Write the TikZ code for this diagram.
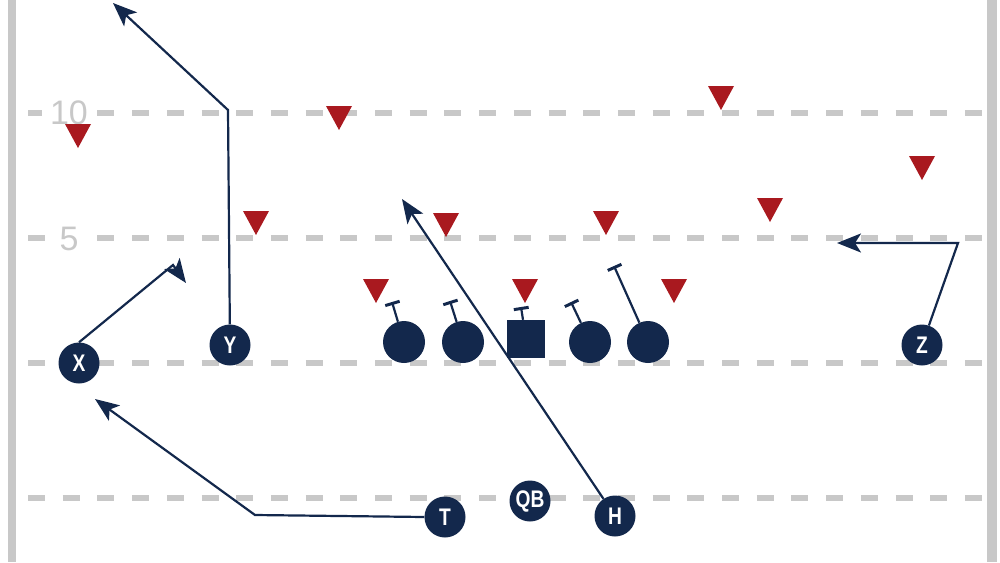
\documentclass[tikz,border=0pt]{standalone}
\usepackage{fontspec}
\setmainfont{Liberation Sans}
\newfontfamily\playerfont[FakeStretch=0.8]{Liberation Sans}
\usetikzlibrary{arrows.meta}
\definecolor{navy}{HTML}{13284C}
\definecolor{dred}{HTML}{A9191F}
\definecolor{fieldgray}{HTML}{C8C8C8}

\begin{document}
\begin{tikzpicture}[x=1pt,y=-1pt,
  player/.style={circle,fill=navy,text=white,minimum size=41pt,inner sep=0pt,font=\playerfont\bfseries\fontsize{24}{24}\selectfont},
  lineman/.style={circle,fill=navy,minimum size=42pt,inner sep=0pt},
  center/.style={rectangle,fill=navy,minimum size=38pt,inner sep=0pt},
  route/.style={navy,line width=2.2pt,-{Stealth[length=24pt,width=19pt,inset=6pt]}},
  block/.style={navy,line width=2.2pt,-{Bar[width=15pt,line width=3pt]}},
  yardline/.style={fieldgray,line width=6pt,dash pattern=on 17pt off 17.7pt},
  yardnum/.style={fill=white,text=fieldgray,inner xsep=8pt,inner ysep=4pt,anchor=base,font=\fontsize{34}{34}\selectfont}]
\useasboundingbox (0,0) rectangle (1000,562);
% sidelines and yard lines
\draw[fieldgray,line width=8pt] (12,0) -- (12,562);
\draw[fieldgray,line width=10pt] (992,0) -- (992,562);
\foreach \yy in {113,238,363,498}
  \draw[yardline] (28,\yy) -- (982,\yy);
\node[yardnum] (ten) at (69,124) {10};
\node[yardnum] (five) at (69,250) {5};
% defense
\foreach \dx/\dy in {78/136,339/118,721/98,256/223,446/225,606/223,770/210,922/168,376/291,525/291,674/291}
  \fill[dred] (\dx-13,\dy-12) -- (\dx+13,\dy-12) -- (\dx,\dy+12) -- cycle;
% offense
\node[lineman] (LT) at (404,342) {};
\node[lineman] (LG) at (463,342) {};
\node[center] (C) at (526,339) {};
\node[lineman] (RG) at (590,342) {};
\node[lineman] (RT) at (648,342) {};
\node[player] (X) at (79,363) {X};
\node[player] (Y) at (230,345) {Y};
\node[player] (Z) at (922,345) {Z};
\node[player] (T) at (445,517) {T};
\node[player] (QB) at (530,501) {QB};
\node[player] (H) at (615,516) {H};
% blocks
\draw[block] (LT) -- (392,302);
\draw[block] (LG) -- (450,301);
\draw[block] (C) -- (521,307);
\draw[block] (RG) -- (571,302);
\draw[block] (RT) -- (614,266);
% routes
\draw[route] (Y) -- (228,110) -- (113,3);
\draw[route] (X.north) -- (173,265) -- (186,283);
\draw[route] (H) -- (402,199);
\draw[route] (T.west) -- (255,515) -- (95,399);
\draw[route] (Z) -- (958,243) -- (837,243);
\end{tikzpicture}
\end{document}
